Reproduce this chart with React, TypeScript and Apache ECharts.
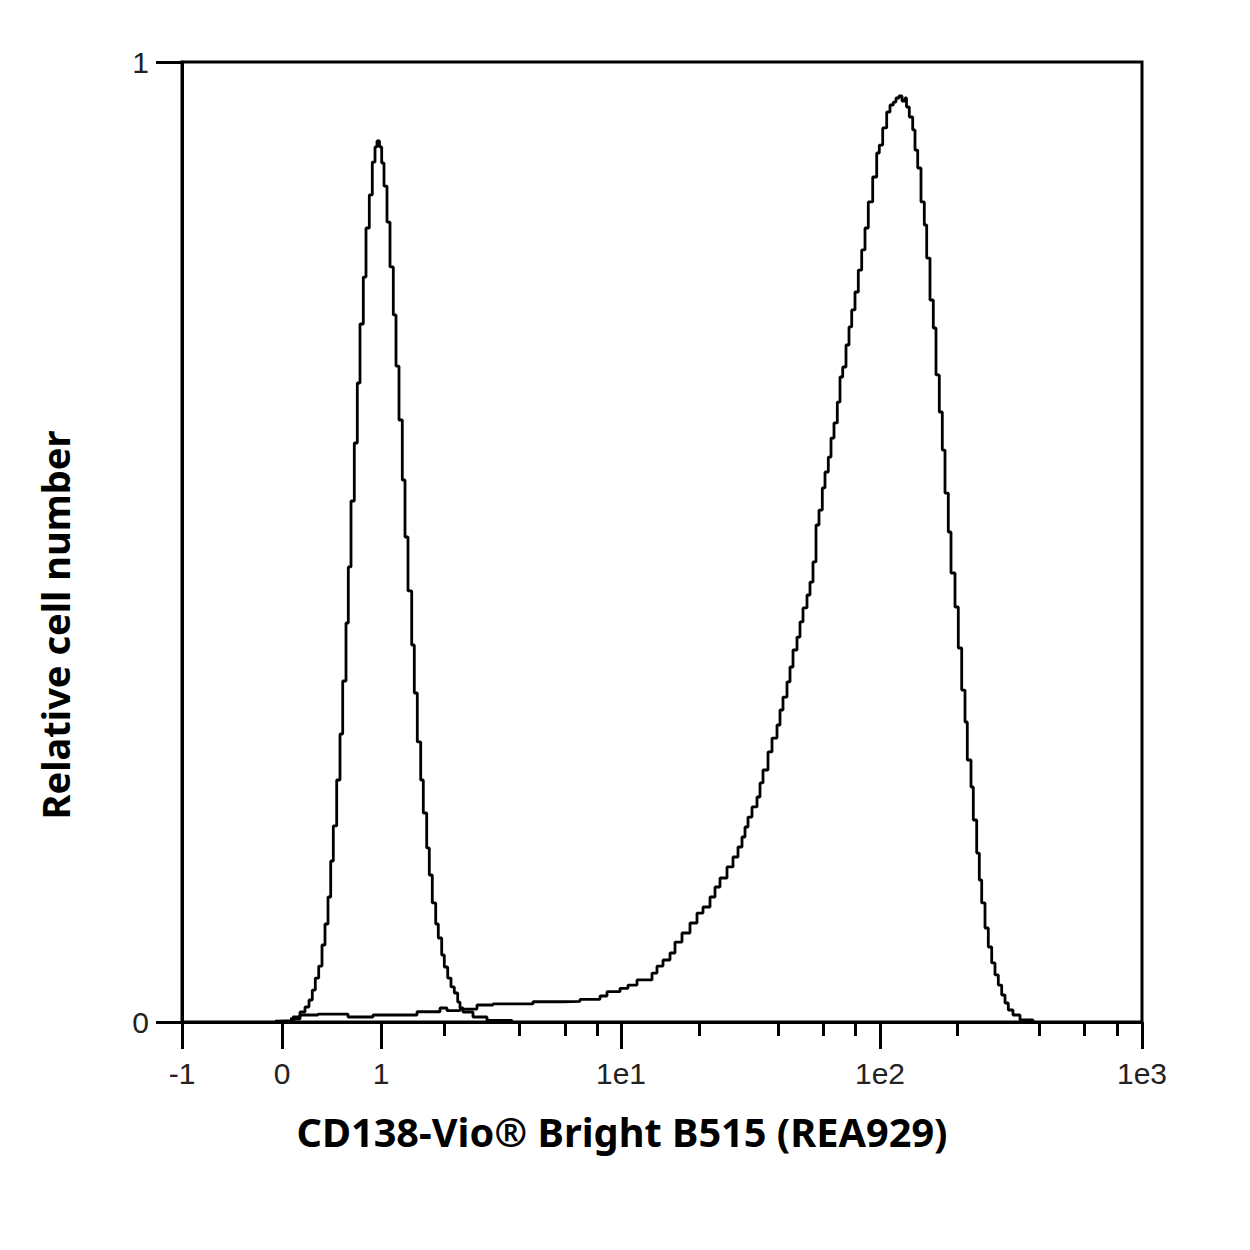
import React, { useEffect, useRef } from "react";
import * as echarts from "echarts";

// X axis: display channel (0..960) of a biexponential fluorescence scale
const xTickChannels = [0, 100, 199, 439, 698, 960];
const xTickLabels = ["-1", "0", "1", "1e1", "1e2", "1e3"];
const xMinorChannels = [262, 337, 383, 415, 517, 596, 641, 673, 775, 857, 902, 935];
const yTickValues = [0, 1];
const yTickLabels = ["0", "1"];

const xTitle = "CD138-Vio® Bright B515 (REA929)";
const yTitle = "Relative cell number";

// Control (unstained) histogram
const controlChannels = [
  93, 95, 111, 118, 123, 127, 130.3, 133.3, 136.7, 140, 143, 146, 148.7, 151.3, 154.7, 158,
  160.7, 164, 166.3, 169, 172.3, 175.3, 178, 181.3, 184, 187.3, 190.3, 193, 195, 197.5, 199.7,
  202, 205, 208, 211.3, 214, 217, 220.3, 223, 226, 229.7, 232.3, 235.3, 238.7, 241.3, 244.7,
  247.3, 250.3, 253.7, 256.3, 259.7, 262.3, 265.7, 269, 272.3, 275.7, 278, 281, 291, 305, 330,
];
const controlCounts = [
  0.001, 0.0014, 0.0052, 0.0104, 0.0156, 0.0229, 0.0333, 0.0458, 0.0583, 0.0802, 0.1021,
  0.1302, 0.1677, 0.2042, 0.2521, 0.3, 0.3552, 0.4156, 0.474, 0.5427, 0.6031, 0.6656, 0.7271,
  0.776, 0.8271, 0.8615, 0.8958, 0.9115, 0.9177, 0.9115, 0.8948, 0.8708, 0.8333, 0.7865,
  0.7365, 0.6833, 0.6271, 0.5646, 0.5052, 0.449, 0.3927, 0.3427, 0.2917, 0.2521, 0.2177,
  0.1813, 0.1531, 0.124, 0.1021, 0.0875, 0.0698, 0.0573, 0.0458, 0.0365, 0.0302, 0.0208,
  0.0146, 0.0104, 0.0052, 0.0016, 0.0005,
];

// CD138 stained histogram
const stainedChannels = [
  108, 118, 136, 166, 191, 235, 258, 265, 278, 295, 311, 351, 381, 398, 418, 425, 438, 446,
  455, 470, 475, 481, 488, 493, 500, 508, 515, 521, 528, 533, 538, 545, 551, 556, 560, 563,
  566, 570, 575, 578, 581, 586, 590, 595, 598, 601, 605, 608, 611, 615, 618, 621, 625, 628,
  631, 634, 637, 640.3, 643, 646.3, 649, 652, 655.3, 658, 660.7, 664, 667, 669.7, 673, 676.3,
  679.7, 683, 686.3, 690.7, 694.7, 697.3, 700.7, 704.7, 708, 711.3, 714, 717, 720, 723, 724.5,
  727.3, 730.7, 733, 735.7, 739, 742.3, 744.7, 748, 751.3, 754, 757.3, 760.3, 763, 766.3, 769,
  773, 776.3, 779.7, 783, 785.3, 789, 791.3, 794.7, 797.3, 799.7, 803, 806.3, 809.7, 813,
  816.3, 819.7, 823, 826.3, 831, 838, 851,
];
const stainedCounts = [
  0.0031, 0.0073, 0.0083, 0.0052, 0.0073, 0.0107, 0.0146, 0.0118, 0.0135, 0.0177, 0.0188,
  0.0211, 0.0215, 0.0236, 0.0271, 0.0316, 0.0351, 0.0385, 0.0438, 0.051, 0.0583, 0.0646,
  0.0719, 0.0833, 0.0927, 0.1031, 0.1135, 0.1198, 0.1302, 0.1406, 0.15, 0.1615, 0.1719,
  0.1823, 0.1927, 0.2031, 0.2135, 0.224, 0.2344, 0.249, 0.2625, 0.2813, 0.2958, 0.3094,
  0.325, 0.3385, 0.3542, 0.3698, 0.3875, 0.401, 0.4167, 0.4313, 0.4448, 0.4583, 0.4792,
  0.5177, 0.5333, 0.5563, 0.5729, 0.5885, 0.6083, 0.624, 0.6458, 0.6719, 0.6823, 0.7052,
  0.724, 0.7417, 0.7604, 0.7833, 0.8042, 0.8271, 0.8542, 0.8802, 0.9052, 0.9135, 0.9313,
  0.9479, 0.9552, 0.9583, 0.9625, 0.9646, 0.9594, 0.9625, 0.9531, 0.9427, 0.9292, 0.9083,
  0.8896, 0.8542, 0.8302, 0.7958, 0.7521, 0.7229, 0.674, 0.6354, 0.5958, 0.551, 0.5104,
  0.4677, 0.4323, 0.3896, 0.3458, 0.3125, 0.2729, 0.2448, 0.2104, 0.176, 0.1479, 0.124,
  0.0979, 0.0781, 0.0615, 0.049, 0.0385, 0.0281, 0.0198, 0.0125, 0.0073, 0.0021, 0.0005,
];

const LABEL_FONT = "'Liberation Sans', Arial, sans-serif";
const TITLE_FONT = "'Noto Sans', 'Open Sans', sans-serif";

function nearestLabel(v: number, vals: number[], labels: string[]) {
  let best = 0;
  for (let i = 1; i < vals.length; i++) {
    if (Math.abs(vals[i] - v) < Math.abs(vals[best] - v)) best = i;
  }
  return labels[best];
}

export default function App() {
  const ref = useRef<HTMLDivElement>(null);
  useEffect(() => {
    if (!ref.current) return;
    const chart = echarts.init(ref.current, undefined, { renderer: "svg" });
    const pair = (xs: number[], ys: number[]) => xs.map((x, i) => [x, ys[i]]);
    chart.setOption({
      animation: false,
      backgroundColor: "#ffffff",
      grid: {
        left: 182,
        top: 62,
        width: 960,
        height: 960,
        show: true,
        borderColor: "#000",
        borderWidth: 3,
        backgroundColor: "transparent",
      },
      xAxis: [
        {
          type: "value",
          min: 0,
          max: 960,
          position: "bottom",
          offset: 0,
          splitLine: { show: false },
          axisLine: { show: true, lineStyle: { color: "#000", width: 3 } },
          axisTick: {
            show: true,
            customValues: xTickChannels,
            length: 27,
            lineStyle: { color: "#000", width: 3 },
          },
          axisLabel: {
            show: true,
            customValues: xTickChannels,
            margin: 36,
            fontFamily: LABEL_FONT,
            fontSize: 30,
            color: "#222",
            formatter: (v: number) => nearestLabel(v, xTickChannels, xTickLabels),
          },
        },
        {
          type: "value",
          min: 0,
          max: 960,
          position: "bottom",
          offset: 0,
          splitLine: { show: false },
          axisLine: { show: false },
          axisTick: {
            show: true,
            customValues: xMinorChannels,
            length: 14,
            lineStyle: { color: "#000", width: 3 },
          },
          axisLabel: { show: false },
        },
      ],
      yAxis: {
        type: "value",
        min: 0,
        max: 1,
        splitLine: { show: false },
        axisLine: { show: true, lineStyle: { color: "#000", width: 3 } },
        axisTick: {
          show: true,
          customValues: yTickValues,
          length: 26,
          lineStyle: { color: "#000", width: 3 },
        },
        axisLabel: {
          show: true,
          customValues: yTickValues,
          margin: 33,
          fontFamily: LABEL_FONT,
          fontSize: 30,
          color: "#222",
          formatter: (v: number) => nearestLabel(v, yTickValues, yTickLabels),
        },
      },
      graphic: [
        {
          type: "text",
          x: 622,
          y: 1132,
          style: {
            text: xTitle,
            fontFamily: TITLE_FONT,
            fontWeight: "bold",
            fontSize: 39.7,
            fill: "#000",
            align: "center",
            verticalAlign: "middle",
          },
        },
        {
          type: "text",
          x: 55,
          y: 625,
          rotation: Math.PI / 2,
          style: {
            text: yTitle,
            fontFamily: TITLE_FONT,
            fontWeight: "bold",
            fontSize: 38,
            fill: "#000",
            align: "center",
            verticalAlign: "middle",
          },
        },
      ],
      series: [
        {
          name: "Control",
          type: "line",
          xAxisIndex: 0,
          step: "end",
          symbol: "none",
          lineStyle: { color: "#000", width: 2.8 },
          data: pair(controlChannels, controlCounts),
        },
        {
          name: "CD138",
          type: "line",
          xAxisIndex: 0,
          step: "end",
          symbol: "none",
          lineStyle: { color: "#000", width: 2.8 },
          data: pair(stainedChannels, stainedCounts),
        },
      ],
    });
    return () => chart.dispose();
  }, []);
  return (
    <div
      ref={ref}
      style={{ position: "absolute", left: 0, top: 0, width: 1250, height: 1250, background: "#fff" }}
    />
  );
}
